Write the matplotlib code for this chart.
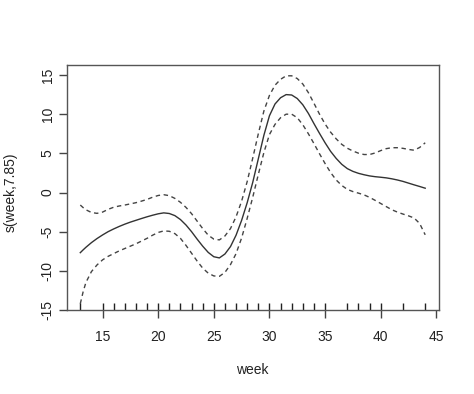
import matplotlib
matplotlib.use("Agg")
import matplotlib.pyplot as plt

# ---- data ----
week = [13, 13.25, 13.5, 14, 14.5, 15, 15.5, 16, 16.5, 17, 17.5, 18, 18.5, 19,
        19.5, 20, 20.5, 21, 21.5, 22, 22.5, 23, 23.5, 24, 24.5, 25, 25.5, 26,
        26.5, 27, 27.5, 28, 28.5, 29, 29.5, 30, 30.5, 31, 31.5, 32, 32.5, 33,
        33.5, 34, 34.5, 35, 35.5, 36, 36.5, 37, 37.5, 38, 38.5, 39, 39.5, 40,
        40.5, 41, 41.5, 42, 42.5, 43, 43.5, 44]
fit = [-7.68, -7.33, -7.0, -6.4, -5.88, -5.42, -5.0, -4.65, -4.33, -4.04,
       -3.78, -3.55, -3.32, -3.1, -2.9, -2.72, -2.6, -2.68, -2.95, -3.45,
       -4.15, -5.0, -5.95, -6.85, -7.65, -8.2, -8.35, -7.85, -6.9, -5.45,
       -3.55, -1.3, 1.3, 4.3, 7.3, 9.8, 11.3, 12.1, 12.5, 12.45, 12.0, 11.2,
       10.1, 8.8, 7.55, 6.35, 5.25, 4.35, 3.6, 3.05, 2.7, 2.45, 2.27, 2.12,
       2.02, 1.95, 1.87, 1.75, 1.6, 1.42, 1.2, 0.98, 0.77, 0.55]
upper = [-1.6, -1.92, -2.2, -2.55, -2.66, -2.5, -2.15, -1.88, -1.72, -1.6,
         -1.45, -1.3, -1.1, -0.88, -0.6, -0.38, -0.28, -0.4, -0.75, -1.25,
         -1.9, -2.7, -3.65, -4.6, -5.45, -5.95, -6.05, -5.55, -4.6, -3.1,
         -1.1, 1.4, 4.4, 7.5, 10.4, 12.4, 13.7, 14.45, 14.9, 14.9, 14.55,
         13.85, 12.75, 11.4, 10.0, 8.75, 7.7, 6.85, 6.15, 5.65, 5.3, 5.02,
         4.85, 4.85, 5.05, 5.35, 5.6, 5.72, 5.72, 5.64, 5.5, 5.4, 5.75, 6.35]
lower = [-14.2, -12.7, -11.5, -10.1, -9.25, -8.6, -8.15, -7.8, -7.45, -7.15,
         -6.85, -6.55, -6.2, -5.85, -5.45, -5.1, -4.9, -4.95, -5.25, -5.85,
         -6.75, -7.75, -8.75, -9.65, -10.3, -10.65, -10.7, -10.2, -9.2, -7.8,
         -5.8, -3.3, -0.6, 2.3, 5.1, 7.4, 8.7, 9.55, 10.0, 10.0, 9.55, 8.65,
         7.5, 6.25, 4.95, 3.7, 2.55, 1.6, 0.9, 0.4, 0.12, -0.08, -0.3, -0.62,
         -1.0, -1.4, -1.8, -2.2, -2.5, -2.75, -2.98, -3.25, -3.95, -5.4]
rug_weeks = [13, 15, 16, 17, 18, 19, 20, 21, 22, 23, 24, 25, 26, 27, 28, 29, 30,
             31, 32, 33, 34, 35, 37, 38, 39, 40, 42, 44]
xticks = [15, 20, 25, 30, 35, 40, 45]
yticks = [-15, -10, -5, 0, 5, 10, 15]
xlabel = "week"
ylabel = "s(week,7.85)"

plt.rcParams['font.family'] = ['Liberation Sans', 'DejaVu Sans']
plt.rcParams['font.size'] = 10

fig = plt.figure(figsize=(4.74, 3.94), dpi=100)
ax = fig.add_axes([66.5 / 474, 1 - 310 / 394, (439 - 66.5) / 474, (310 - 65) / 394])

ax.plot(week, fit, color='#333333', lw=1.0, solid_joinstyle='round')
ax.plot(week, upper, color='#444444', lw=1.0, dashes=(3.2, 2.6))
ax.plot(week, lower, color='#444444', lw=1.0, dashes=(3.2, 2.6))
ax.vlines(rug_weeks, 0, 0.03, transform=ax.get_xaxis_transform(),
          color='#222222', lw=1.0)

ax.set_xlim(11.76, 45.24)
ax.set_ylim(-15.0, 16.28)
ax.set_xticks(xticks)
ax.set_yticks(yticks)
ax.set_xticklabels([str(v) for v in xticks])
ax.set_yticklabels([str(v) for v in yticks], rotation=90, va='center')

for s in ax.spines.values():
    s.set_color('#555555')
    s.set_linewidth(1.0)
ax.tick_params(axis='both', direction='out', length=6, width=1.0,
               color='#444444', labelcolor='#222222')
ax.tick_params(axis='x', pad=8.5)
ax.tick_params(axis='y', pad=2.5)

ax.set_xlabel(xlabel, color='#222222')
ax.xaxis.label.set_va('center')
ax.xaxis.set_label_coords(0.5, (310 - 370) / 245)
ax.set_ylabel(ylabel, color='#222222')
ax.yaxis.label.set_va('center')
ax.yaxis.set_label_coords((11 - 66.5) / 372.5, 0.5 + (187.5 - 192) / 245)

fig.savefig("out.png", dpi=100)
